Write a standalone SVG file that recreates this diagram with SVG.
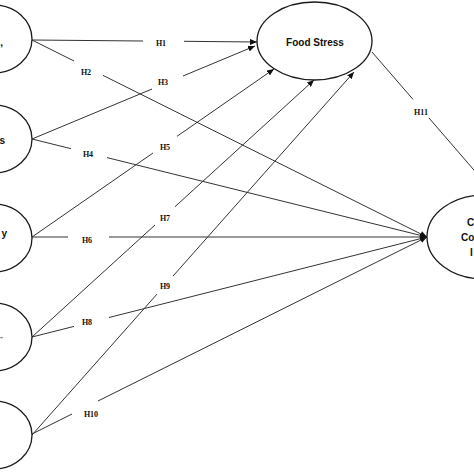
<svg xmlns="http://www.w3.org/2000/svg" width="474" height="474" viewBox="0 0 474 474">
<style>
.node{fill:#fff;stroke:#1a1a1a;stroke-width:1.3}
.nt{font-family:"Liberation Sans",Arial,sans-serif;font-weight:bold;font-size:10px;fill:#111}
.edge{fill:none;stroke:#333;stroke-width:1}
.lbl{font-family:"Liberation Serif","Times New Roman",serif;font-weight:bold;font-size:8px;fill:#111;text-anchor:middle}
</style>
<defs>
<marker id="arr" markerUnits="userSpaceOnUse" markerWidth="8" markerHeight="6" refX="7" refY="3" orient="auto">
<path d="M0,0 L7,3 L0,6 Z" fill="#111"/>
</marker>
</defs>
<rect width="474" height="474" fill="#fff"/>
<g id="connectors">
<path class="edge" marker-end="url(#arr)" d="M32,40 L143,41 M184,41.3 L257,42"/>
<path class="edge" marker-end="url(#arr)" d="M32,40 L74,61 M103,75.4 L427,237"/>
<path class="edge" marker-end="url(#arr)" d="M32,139 L152,89 M183,76 L255,46"/>
<path class="edge" marker-end="url(#arr)" d="M32,139 L71,148.7 M107,157.6 L427,237"/>
<path class="edge" marker-end="url(#arr)" d="M32,237 L153,153 M177,136.3 L274,69"/>
<path class="edge" marker-end="url(#arr)" d="M32,237 L68,237 M109,237 L427,237"/>
<path class="edge" marker-end="url(#arr)" d="M32,337 L155,225 M175,206.7 L314,80"/>
<path class="edge" marker-end="url(#arr)" d="M32,337 L74,326.4 M109,317.5 L427,237"/>
<path class="edge" marker-end="url(#arr)" d="M32,435 L157,294.1 M173,276.1 L354,72"/>
<path class="edge" marker-end="url(#arr)" d="M32,434 L72,414 M98,401 L427,237"/>
<path class="edge" marker-end="url(#arr)" d="M372,52 L413,99.4 M429,118 L486,184"/>
<text class="lbl" x="161" y="46">H1</text>
<text class="lbl" x="86" y="75">H2</text>
<text class="lbl" x="163" y="85">H3</text>
<text class="lbl" x="88" y="157">H4</text>
<text class="lbl" x="165" y="150">H5</text>
<text class="lbl" x="87" y="243">H6</text>
<text class="lbl" x="165" y="221">H7</text>
<text class="lbl" x="87" y="325">H8</text>
<text class="lbl" x="165" y="289">H9</text>
<text class="lbl" x="91" y="417">H10</text>
<text class="lbl" x="421" y="115">H11</text>
</g>
<g id="n1"><ellipse class="node" cx="-6" cy="39" rx="38" ry="34"/><text class="nt" x="3" y="46" text-anchor="end">,</text></g>
<g id="n2"><ellipse class="node" cx="-6" cy="139" rx="38" ry="34"/><text class="nt" x="5" y="144" text-anchor="end">s</text></g>
<g id="n3"><ellipse class="node" cx="-6" cy="238" rx="38" ry="34"/><text class="nt" x="7" y="237" text-anchor="end">y</text></g>
<g id="n4"><ellipse class="node" cx="-6" cy="337" rx="38" ry="34"/><text class="nt" x="3" y="340" text-anchor="end" fill="#888" style="fill:#888">-</text></g>
<g id="n5"><ellipse class="node" cx="-6" cy="435" rx="38" ry="34"/></g>
<g id="food-stress"><ellipse class="node" cx="314.5" cy="41" rx="57.5" ry="39"/><text class="nt" x="315" y="45.5" text-anchor="middle">Food Stress</text></g>
<g id="outcome"><ellipse class="node" cx="484" cy="237" rx="57" ry="42"/>
<text class="nt" x="467" y="226">C</text>
<text class="nt" x="461" y="241">Co</text>
<text class="nt" x="470" y="256">I</text>
</g>
</svg>
